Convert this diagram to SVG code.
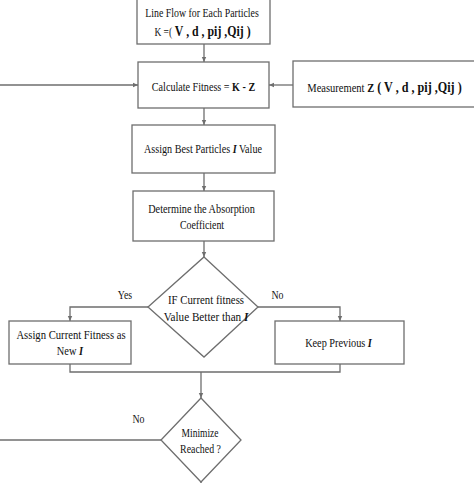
<svg xmlns="http://www.w3.org/2000/svg" width="474" height="483" viewBox="0 0 474 483">
<defs>
<style>
.box{fill:#fff;stroke:#6e6e6e;stroke-width:1.3}
.ln{fill:none;stroke:#6e6e6e;stroke-width:1.3}
.t{font-family:"Liberation Serif","Times New Roman",serif;font-size:13px;fill:#111;text-anchor:middle}
.b{font-weight:bold;font-size:15px}
.bi{font-weight:bold;font-style:italic}
</style>
<marker id="ah" markerUnits="userSpaceOnUse" markerWidth="6" markerHeight="6" refX="5" refY="3" orient="auto">
<path d="M0,0.8 L5,3 L0,5.2 Z" fill="#6e6e6e"/>
</marker>
</defs>
<rect width="474" height="483" fill="#fff"/>
<g id="connectors">
<line class="ln" x1="204" y1="44" x2="204" y2="62" marker-end="url(#ah)"/>
<line class="ln" x1="0" y1="85" x2="138" y2="85" marker-end="url(#ah)"/>
<line class="ln" x1="293" y1="85" x2="269" y2="85" marker-end="url(#ah)"/>
<line class="ln" x1="204" y1="108" x2="204" y2="125" marker-end="url(#ah)"/>
<line class="ln" x1="204" y1="173" x2="204" y2="191" marker-end="url(#ah)"/>
<line class="ln" x1="204" y1="241" x2="204" y2="257" marker-end="url(#ah)"/>
<polyline class="ln" points="148,307 70,307 70,321" marker-end="url(#ah)"/>
<polyline class="ln" points="258,307 340,307 340,321" marker-end="url(#ah)"/>
<polyline class="ln" points="70,364 70,372 340,372 340,364"/>
<line class="ln" x1="201" y1="372" x2="201" y2="398" marker-end="url(#ah)"/>
<line class="ln" x1="161" y1="440" x2="0" y2="440"/>
<line class="ln" x1="201" y1="482" x2="201" y2="486"/>
</g>
<g id="n-lineflow">
<rect class="box" x="137" y="-2" width="133" height="46"/>
<text class="t" transform="translate(202 17) scale(0.76 1)">Line Flow for Each Particles</text>
<text class="t" transform="translate(202.5 36) scale(0.79 1)"><tspan font-size="12">K =(</tspan><tspan class="b"> V , d , pij ,Qij )</tspan></text>
</g>
<g id="n-calc">
<rect class="box" x="138" y="62" width="131" height="46"/>
<text class="t" transform="translate(203.5 91) scale(0.78 1)">Calculate Fitness = <tspan font-weight="bold">K - Z</tspan></text>
</g>
<g id="n-measure">
<rect class="box" x="293" y="61" width="184" height="46"/>
<text class="t" transform="translate(384.5 92) scale(0.81 1)">Measurement <tspan font-weight="bold">Z</tspan><tspan class="b">  ( V , d , pij ,Qij )</tspan></text>
</g>
<g id="n-assignbest">
<rect class="box" x="132" y="125" width="143" height="48"/>
<text class="t" transform="translate(203 153) scale(0.78 1)">Assign Best Particles <tspan class="bi">I</tspan> Value</text>
</g>
<g id="n-determine">
<rect class="box" x="133" y="191" width="141" height="50"/>
<text class="t" transform="translate(201.5 213) scale(0.79 1)">Determine the Absorption</text>
<text class="t" transform="translate(202 229) scale(0.76 1)">Coefficient</text>
</g>
<g id="n-if">
<polygon class="box" points="204,257 258,307 204,357 148,307"/>
<text class="t" transform="translate(206 304) scale(0.83 1)">IF Current fitness</text>
<text class="t" transform="translate(206 321) scale(0.86 1)">Value Better than <tspan class="bi">I</tspan></text>
</g>
<g id="labels">
<text class="t" font-size="12" transform="translate(125 299) scale(0.76 1)">Yes</text>
<text class="t" font-size="12" transform="translate(277.5 299) scale(0.76 1)">No</text>
<text class="t" font-size="12" transform="translate(138.5 423) scale(0.76 1)">No</text>
</g>
<g id="n-assigncurrent">
<rect class="box" x="9" y="321" width="122" height="43"/>
<text class="t" transform="translate(71 339) scale(0.82 1)">Assign Current Fitness as</text>
<text class="t" transform="translate(70 355) scale(0.8 1)">New <tspan class="bi">I</tspan></text>
</g>
<g id="n-keep">
<rect class="box" x="275" y="321" width="129" height="43"/>
<text class="t" transform="translate(338.5 347) scale(0.79 1)">Keep Previous <tspan class="bi">I</tspan></text>
</g>
<g id="n-minimize">
<polygon class="box" points="201,398 241,440 201,482 161,440"/>
<text class="t" transform="translate(200 437) scale(0.73 1)">Minimize</text>
<text class="t" transform="translate(200.5 453) scale(0.76 1)">Reached ?</text>
</g>
</svg>
